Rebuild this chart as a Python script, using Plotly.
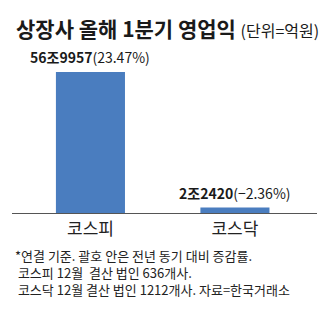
import plotly.graph_objects as go

categories = ["코스피", "코스닥"]
values = [569957, 22420]
value_labels = ["56조9957", "2조2420"]
change_labels = ["(23.47%)", "(−2.36%)"]
title_main = "상장사 올해 1분기 영업익"
title_unit = "(단위=억원)"
notes = [
    "*연결 기준. 괄호 안은 전년 동기 대비 증감률.",
    " 코스피 12월  결산 법인 636개사.",
    " 코스닥 12월 결산 법인 1212개사. 자료=한국거래소",
]

W, H = 329, 332
ml, mr, mt, mb = 12, 12, 40, 119
pw, ph = W - ml - mr, H - mt - mb
bar_px = 141
ymax = values[0] * ph / bar_px

def py(pix):
    return (H - mb - pix) / ph

def px(pix):
    return (pix - ml) / pw

FONT = "Noto Sans CJK KR"
fig = go.Figure()
fig.add_trace(go.Bar(
    x=categories, y=values, width=0.478,
    marker=dict(color="#4a7dbf", line=dict(width=0)),
    hoverinfo="skip",
))

anns = []
shifts = [3, 2]
for c, v, vl, cl, s in zip(categories, values, value_labels, change_labels, shifts):
    anns.append(dict(
        x=c, y=v, xref="x", yref="y", yanchor="bottom", yshift=s,
        text=f"<b>{vl}</b>{cl}", showarrow=False,
        font=dict(family=FONT, size=14, color="#1a1a1a"),
    ))
anns.append(dict(
    x=px(14), y=py(28), xref="paper", yref="paper", xanchor="left", yanchor="middle",
    text=f"<b>{title_main}</b> <span style='font-size:16px'>{title_unit}</span>",
    showarrow=False, font=dict(family=FONT, size=21, color="#1a1a1a"),
))
anns.append(dict(
    x=px(13), y=py(272), xref="paper", yref="paper",
    xanchor="left", yanchor="middle", align="left", text="<br>".join(notes),
    showarrow=False, font=dict(family=FONT, size=13, color="#222"),
))

fig.update_layout(
    width=W, height=H, margin=dict(l=ml, r=mr, t=mt, b=mb),
    paper_bgcolor="white", plot_bgcolor="white",
    showlegend=False, annotations=anns,
    xaxis=dict(range=[-0.543, 1.568], showgrid=False, zeroline=False,
               showline=True, linecolor="#555", linewidth=1.2,
               ticks="", tickfont=dict(family=FONT, size=17, color="#222")),
    yaxis=dict(range=[0, ymax], visible=False),
)
fig.write_html("out.html")
